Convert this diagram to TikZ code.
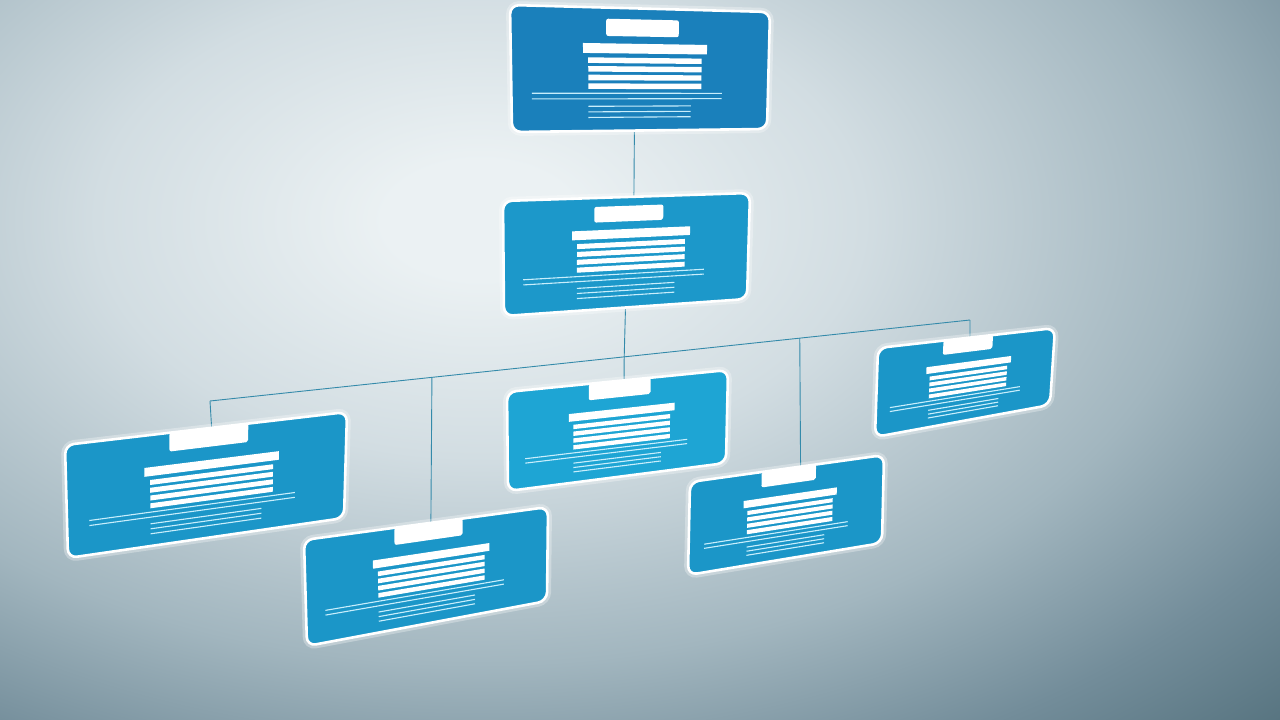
\documentclass[tikz,border=0pt]{standalone}
\usetikzlibrary{calc}
\definecolor{bgA}{HTML}{EBF1F3}
\definecolor{bgB}{HTML}{D2DDE2}
\definecolor{bgC}{HTML}{A2B6BF}
\definecolor{bgD}{HTML}{738D9A}
\definecolor{bgDark}{HTML}{56737F}
\definecolor{fillTop}{RGB}{26,128,187}
\definecolor{fillMid}{RGB}{28,152,202}
\definecolor{fillLow}{RGB}{27,150,200}
\definecolor{fillLite}{RGB}{30,165,212}
\definecolor{thin}{RGB}{200,238,252}
\definecolor{wire}{RGB}{52,138,170}
\pgfdeclareradialshading{bgshade}{\pgfpoint{0bp}{0bp}}{color(0bp)=(bgA); color(2bp)=(bgA); color(8bp)=(bgB); color(15bp)=(bgC); color(20bp)=(bgD); color(24bp)=(bgDark); color(100bp)=(bgDark)}
\tikzset{
  cardglow/.style={draw=white, line width=8pt, opacity=0.3, rounded corners=9pt},
  cardedge/.style={draw=white, line width=2.6pt, rounded corners=9pt},
  hdr/.style={fill=white, rounded corners=2pt},
  wbar/.style={fill=white},
  tline/.style={draw=thin, line width=1.1pt},
  wireline/.style={draw=wire, line width=0.9pt},
}
% filled quadrilateral on card #1 between u=#2..#3, v=#4..#5
\newcommand\barq[6]{%
  \fill[#6] ($($(#1tl)!#2!(#1tr)$)!#4!($(#1bl)!#2!(#1br)$)$) --
            ($($(#1tl)!#3!(#1tr)$)!#4!($(#1bl)!#3!(#1br)$)$) --
            ($($(#1tl)!#3!(#1tr)$)!#5!($(#1bl)!#3!(#1br)$)$) --
            ($($(#1tl)!#2!(#1tr)$)!#5!($(#1bl)!#2!(#1br)$)$) -- cycle;}
% line on card #1 from u=#2 to u=#3 at v=#4
\newcommand\lineq[4]{%
  \draw[tline] ($($(#1tl)!#2!(#1tr)$)!#4!($(#1bl)!#2!(#1br)$)$) --
               ($($(#1tl)!#3!(#1tr)$)!#4!($(#1bl)!#3!(#1br)$)$);}
% card: name, fill colour, header v1, header v2
\newcommand\card[4]{%
  \path[cardglow] (#1tl) -- (#1tr) -- (#1br) -- (#1bl) -- cycle;
  \path[cardedge, fill=#2] (#1tl) -- (#1tr) -- (#1br) -- (#1bl) -- cycle;
  \barq{#1}{0.37}{0.65}{#3}{#4}{hdr}
  \barq{#1}{0.28}{0.76}{0.29}{0.37}{wbar}
  \barq{#1}{0.30}{0.74}{0.405}{0.45}{wbar}
  \barq{#1}{0.30}{0.74}{0.475}{0.52}{wbar}
  \barq{#1}{0.30}{0.74}{0.545}{0.59}{wbar}
  \barq{#1}{0.30}{0.74}{0.615}{0.66}{wbar}
  \lineq{#1}{0.08}{0.82}{0.695}
  \lineq{#1}{0.08}{0.82}{0.74}
  \lineq{#1}{0.30}{0.70}{0.80}
  \lineq{#1}{0.30}{0.70}{0.845}
  \lineq{#1}{0.30}{0.70}{0.89}
}
\begin{document}
\begin{tikzpicture}[x=1pt,y=-1pt]
\useasboundingbox (0,0) rectangle (1280,720);
\begin{scope}
  \clip (0,0) rectangle (1280,720);
  \fill[bgDark] (0,0) rectangle (1280,720);
  \shade[shading=bgshade] (480,220) ellipse [x radius=1200, y radius=740];
\end{scope}

% card corners
\coordinate (atl) at (510,5);   \coordinate (atr) at (770,12);
\coordinate (abr) at (767,129); \coordinate (abl) at (512,132);
\coordinate (btl) at (503,201); \coordinate (btr) at (750,193);
\coordinate (bbr) at (747,299); \coordinate (bbl) at (504,316);
\coordinate (ctl) at (65,445);  \coordinate (ctr) at (347,412);
\coordinate (cbr) at (344,518); \coordinate (cbl) at (68,558);
\coordinate (dtl) at (304,540); \coordinate (dtr) at (548,507);
\coordinate (dbr) at (547,601); \coordinate (dbl) at (307,646);
\coordinate (etl) at (507,392); \coordinate (etr) at (728,370);
\coordinate (ebr) at (726,463); \coordinate (ebl) at (508,491);
\coordinate (ftl) at (690,482); \coordinate (ftr) at (884,455);
\coordinate (fbr) at (882,543); \coordinate (fbl) at (688,575);
\coordinate (gtl) at (878,348); \coordinate (gtr) at (1055,328);
\coordinate (gbr) at (1050,405); \coordinate (gbl) at (875,437);

% connectors
\coordinate (busL) at (210,401);
\coordinate (busR) at (970,320);
\draw[wireline] ($(abl)!0.48!(abr)$) -- ($(btl)!0.53!(btr)$);
\draw[wireline] ($(bbl)!0.5!(bbr)$) -- ($(busL)!0.545!(busR)$);
\draw[wireline] (busL) -- (busR);
\draw[wireline] (busL) -- ($(ctl)!0.52!(ctr)$);
\draw[wireline] ($(busL)!0.292!(busR)$) -- ($(dtl)!0.52!(dtr)$);
\draw[wireline] ($(busL)!0.545!(busR)$) -- ($(etl)!0.53!(etr)$);
\draw[wireline] ($(busL)!0.776!(busR)$) -- ($(ftl)!0.57!(ftr)$);
\draw[wireline] (busR) -- ($(gtl)!0.52!(gtr)$);

% cards
\card{a}{fillTop}{0.09}{0.23}
\card{b}{fillMid}{0.08}{0.22}
\card{c}{fillLow}{0.0}{0.17}
\card{d}{fillLow}{0.0}{0.17}
\card{e}{fillLite}{0.0}{0.17}
\card{f}{fillLow}{0.0}{0.17}
\card{g}{fillLow}{0.0}{0.17}
\end{tikzpicture}
\end{document}
